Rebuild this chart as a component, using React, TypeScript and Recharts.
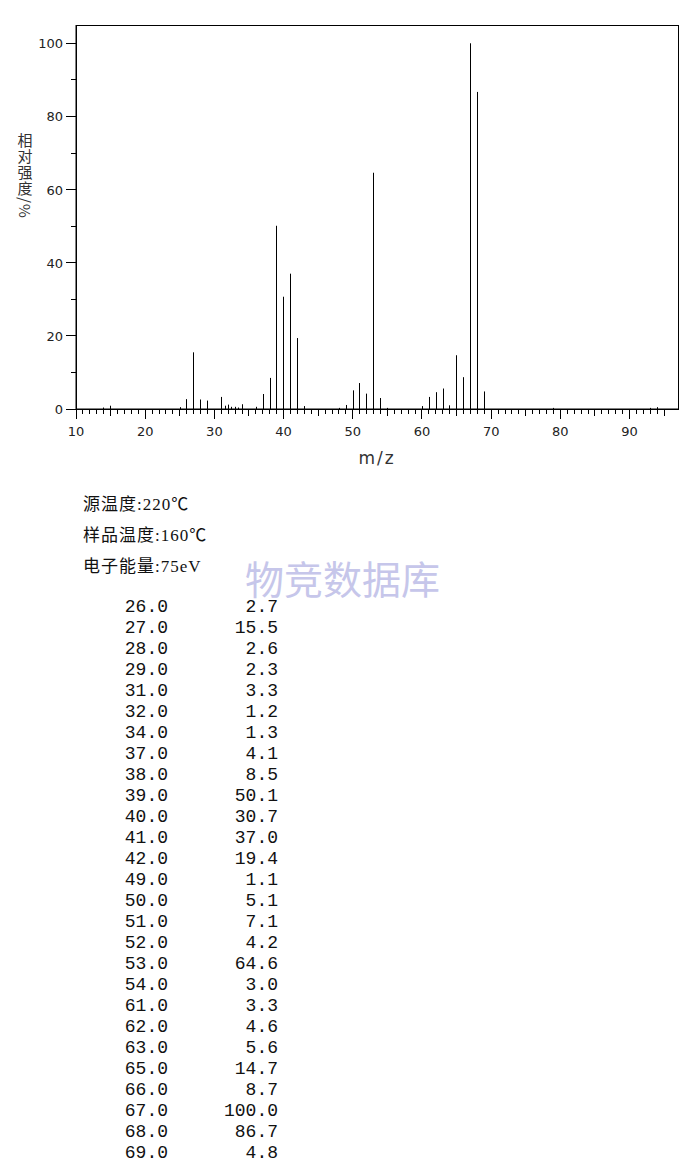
import React from 'react';
import { ComposedChart, Bar, XAxis, YAxis, ReferenceArea, Label } from 'recharts';

// m/z positions and relative intensities (%)
const mzValues = [14, 15, 25, 26, 27, 28, 29, 31, 31.5, 32, 32.5, 33, 33.5, 34, 36, 37, 38, 39, 40, 41, 42, 43, 48, 49, 50, 51, 52, 53, 54, 55, 60, 61, 62, 63, 64, 65, 66, 67, 68, 69, 79, 93, 94];
const intensities = [0.4, 0.9, 0.5, 2.7, 15.5, 2.6, 2.3, 3.3, 0.9, 1.2, 0.6, 0.6, 0.4, 1.3, 0.6, 4.1, 8.5, 50.1, 30.7, 37.0, 19.4, 0.8, 0.3, 1.1, 5.1, 7.1, 4.2, 64.6, 3.0, 0.3, 0.8, 3.3, 4.6, 5.6, 1.0, 14.7, 8.7, 100.0, 86.7, 4.8, 0.3, 0.3, 0.5];

// listed table
const tableMz = ['26.0', '27.0', '28.0', '29.0', '31.0', '32.0', '34.0', '37.0', '38.0', '39.0', '40.0', '41.0', '42.0', '49.0', '50.0', '51.0', '52.0', '53.0', '54.0', '61.0', '62.0', '63.0', '65.0', '66.0', '67.0', '68.0', '69.0'];
const tableIntensity = ['2.7', '15.5', '2.6', '2.3', '3.3', '1.2', '1.3', '4.1', '8.5', '50.1', '30.7', '37.0', '19.4', '1.1', '5.1', '7.1', '4.2', '64.6', '3.0', '3.3', '4.6', '5.6', '14.7', '8.7', '100.0', '86.7', '4.8'];

const infoLines = ['源温度:220℃', '样品温度:160℃', '电子能量:75eV'];
const watermark = '物竞数据库';
const yLabel = '相对强度/%';
const xLabel = 'm/z';

const xDomain = [10, 97];
const yDomain = [0, 105];
const xTicks: number[] = [];
for (let v = 10; v <= 95; v++) xTicks.push(v);
const yTicks = [0, 10, 20, 30, 40, 50, 60, 70, 80, 90, 100];

const data = mzValues.map((mz, i) => ({ mz, intensity: intensities[i] }));

const tickFont = '"DejaVu Sans", sans-serif';
const cjkFont = '"Noto Sans CJK SC", sans-serif';

const XTick = (props: any) => {
  const { x, y, payload } = props;
  const v = payload.value;
  const len = v % 10 === 0 ? 10 : v % 5 === 0 ? 7 : 5;
  return (
    <g>
      <line x1={x} x2={x} y1={y} y2={y + len} stroke="#000" strokeWidth={1} shapeRendering="crispEdges" />
      {v % 10 === 0 && (
        <text x={x} y={y + 27} textAnchor="middle" fontSize={13} fontFamily={tickFont} fill="#222">
          {v}
        </text>
      )}
    </g>
  );
};

const YTick = (props: any) => {
  const { x, y, payload } = props;
  const v = payload.value;
  const major = v % 20 === 0;
  const len = major ? 10 : 5;
  return (
    <g>
      <line x1={x - len} x2={x} y1={y} y2={y} stroke="#000" strokeWidth={1} shapeRendering="crispEdges" />
      {major && (
        <text x={x - 13} y={y + 5} textAnchor="end" fontSize={13} fontFamily={tickFont} fill="#222">
          {v}
        </text>
      )}
    </g>
  );
};

const PeakShape = (props: any) => {
  const { x, y, width, height } = props;
  if (height == null || height <= 0) return null;
  const cx = Math.round(x + width / 2) + 0.5;
  return <line x1={cx} x2={cx} y1={y} y2={y + height} stroke="#000" strokeWidth={1} />;
};

const YLabelContent = (props: any) => {
  const { viewBox } = props;
  return (
    <text
      x={viewBox.x + 5}
      y={viewBox.y + 108}
      fontSize={15}
      letterSpacing={1}
      fontFamily={cjkFont}
      fill="#333"
      style={{ writingMode: 'vertical-rl' as any }}
    >
      {yLabel}
    </text>
  );
};

export default function App() {
  return (
    <div style={{ position: 'absolute', left: 0, top: 0, width: 687, height: 1159, background: '#fff' }}>
      <div style={{ position: 'absolute', left: 0, top: 0 }}>
        <ComposedChart width={687} height={470} data={data} margin={{ top: 25, right: 9, left: 20, bottom: 21 }}>
          <XAxis
            dataKey="mz"
            type="number"
            domain={xDomain}
            ticks={xTicks}
            interval={0}
            allowDataOverflow
            tickLine={false}
            tickSize={0}
            tickMargin={0}
            axisLine={{ stroke: '#000' }}
            tick={<XTick />}
            height={40}
          >
            <Label value={xLabel} position="insideBottom" offset={-15} fontSize={17} fontFamily={tickFont} fill="#333" letterSpacing={2} />
          </XAxis>
          <YAxis
            type="number"
            domain={yDomain}
            ticks={yTicks}
            interval={0}
            allowDataOverflow
            tickLine={false}
            tickSize={0}
            tickMargin={0}
            axisLine={{ stroke: '#000' }}
            tick={<YTick />}
            width={56}
          >
            <Label content={<YLabelContent />} />
          </YAxis>
          <ReferenceArea x1={xDomain[0]} x2={xDomain[1]} y1={yDomain[0]} y2={yDomain[1]} fill="none" stroke="#000" strokeWidth={1} shapeRendering="crispEdges" />
          <Bar dataKey="intensity" barSize={1} shape={<PeakShape />} isAnimationActive={false} />
        </ComposedChart>
      </div>
      {infoLines.map((t, i) => (
        <div
          key={t}
          style={{
            position: 'absolute',
            left: 83,
            top: 494 + i * 31,
            fontSize: 17,
            letterSpacing: 1,
            lineHeight: '22px',
            fontFamily: '"Liberation Serif", "Noto Sans CJK SC", serif',
            color: '#111',
            whiteSpace: 'nowrap',
          }}
        >
          {t}
        </div>
      ))}
      <div
        style={{
          position: 'absolute',
          left: 245,
          top: 559,
          fontSize: 39,
          lineHeight: '36px',
          fontFamily: cjkFont,
          color: '#c6c6ea',
          whiteSpace: 'nowrap',
        }}
      >
        {watermark}
      </div>
      {tableMz.map((m, i) => (
        <div
          key={m}
          style={{
            position: 'absolute',
            left: 0,
            top: 597 + i * 21,
            height: 21,
            lineHeight: '21px',
            fontSize: 18,
            fontFamily: '"Liberation Mono", monospace',
            color: '#111',
            whiteSpace: 'pre',
          }}
        >
          <span style={{ position: 'absolute', left: 100, width: 68, textAlign: 'right' }}>{m}</span>
          <span style={{ position: 'absolute', left: 200, width: 78, textAlign: 'right' }}>{tableIntensity[i]}</span>
        </div>
      ))}
    </div>
  );
}
